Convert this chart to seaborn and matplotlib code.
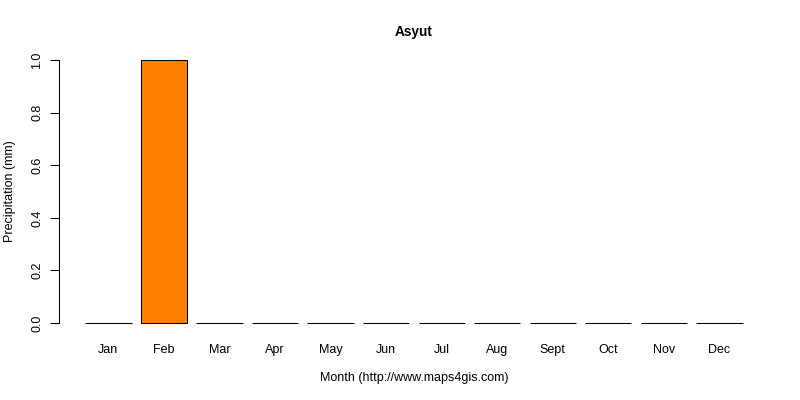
import matplotlib
matplotlib.use("Agg")
import matplotlib.pyplot as plt
import seaborn as sns
import pandas as pd

# Dados de precipitação mensal
months = ['Jan', 'Feb', 'Mar', 'Apr', 'May', 'Jun', 'Jul', 'Aug', 'Sept', 'Oct', 'Nov', 'Dec']
precip = [0, 1, 0, 0, 0, 0, 0, 0, 0, 0, 0, 0]
yticks = [0.0, 0.2, 0.4, 0.6, 0.8, 1.0]

df = pd.DataFrame({'month': months, 'precip': precip})

sns.set_style('white')
plt.rcParams['font.family'] = ['Liberation Sans', 'DejaVu Sans']
plt.rcParams['text.color'] = 'black'
plt.rcParams['axes.labelcolor'] = 'black'
plt.rcParams['xtick.color'] = 'black'
plt.rcParams['ytick.color'] = 'black'

fig = plt.figure(figsize=(8, 4), dpi=100)
ax = fig.add_axes([0.0738, 0.166, 0.961 - 0.0738, 0.876 - 0.166])

sns.barplot(data=df, x='month', y='precip', order=months, color='#FF7F00',
            saturation=1, width=1 / 1.2, edgecolor='black', linewidth=0.75, ax=ax)

ax.set_xlim(-0.89, 11.89)
ax.set_ylim(-0.04, 1.04)
ax.set_yticks(yticks)
ax.set_yticklabels([f'{v:.1f}' for v in yticks], rotation=90, va='center')

for s in ['top', 'right', 'bottom']:
    ax.spines[s].set_visible(False)
ax.spines['left'].set_bounds(0, 1)
ax.spines['left'].set_linewidth(0.75)
ax.spines['left'].set_color('black')

ax.tick_params(axis='y', left=True, length=6.5, width=0.75, color='black', pad=5, labelsize=9)
ax.tick_params(axis='x', bottom=False, length=0, pad=7.5, labelsize=9)

ax.set_title('Asyut', fontsize=9.8, fontweight='bold', pad=10)
ax.set_xlabel('Month (http://www.maps4gis.com)', fontsize=9, labelpad=11.5)
ax.set_ylabel('Precipitation (mm)', fontsize=9, labelpad=11)

fig.savefig('out.png', dpi=100)
